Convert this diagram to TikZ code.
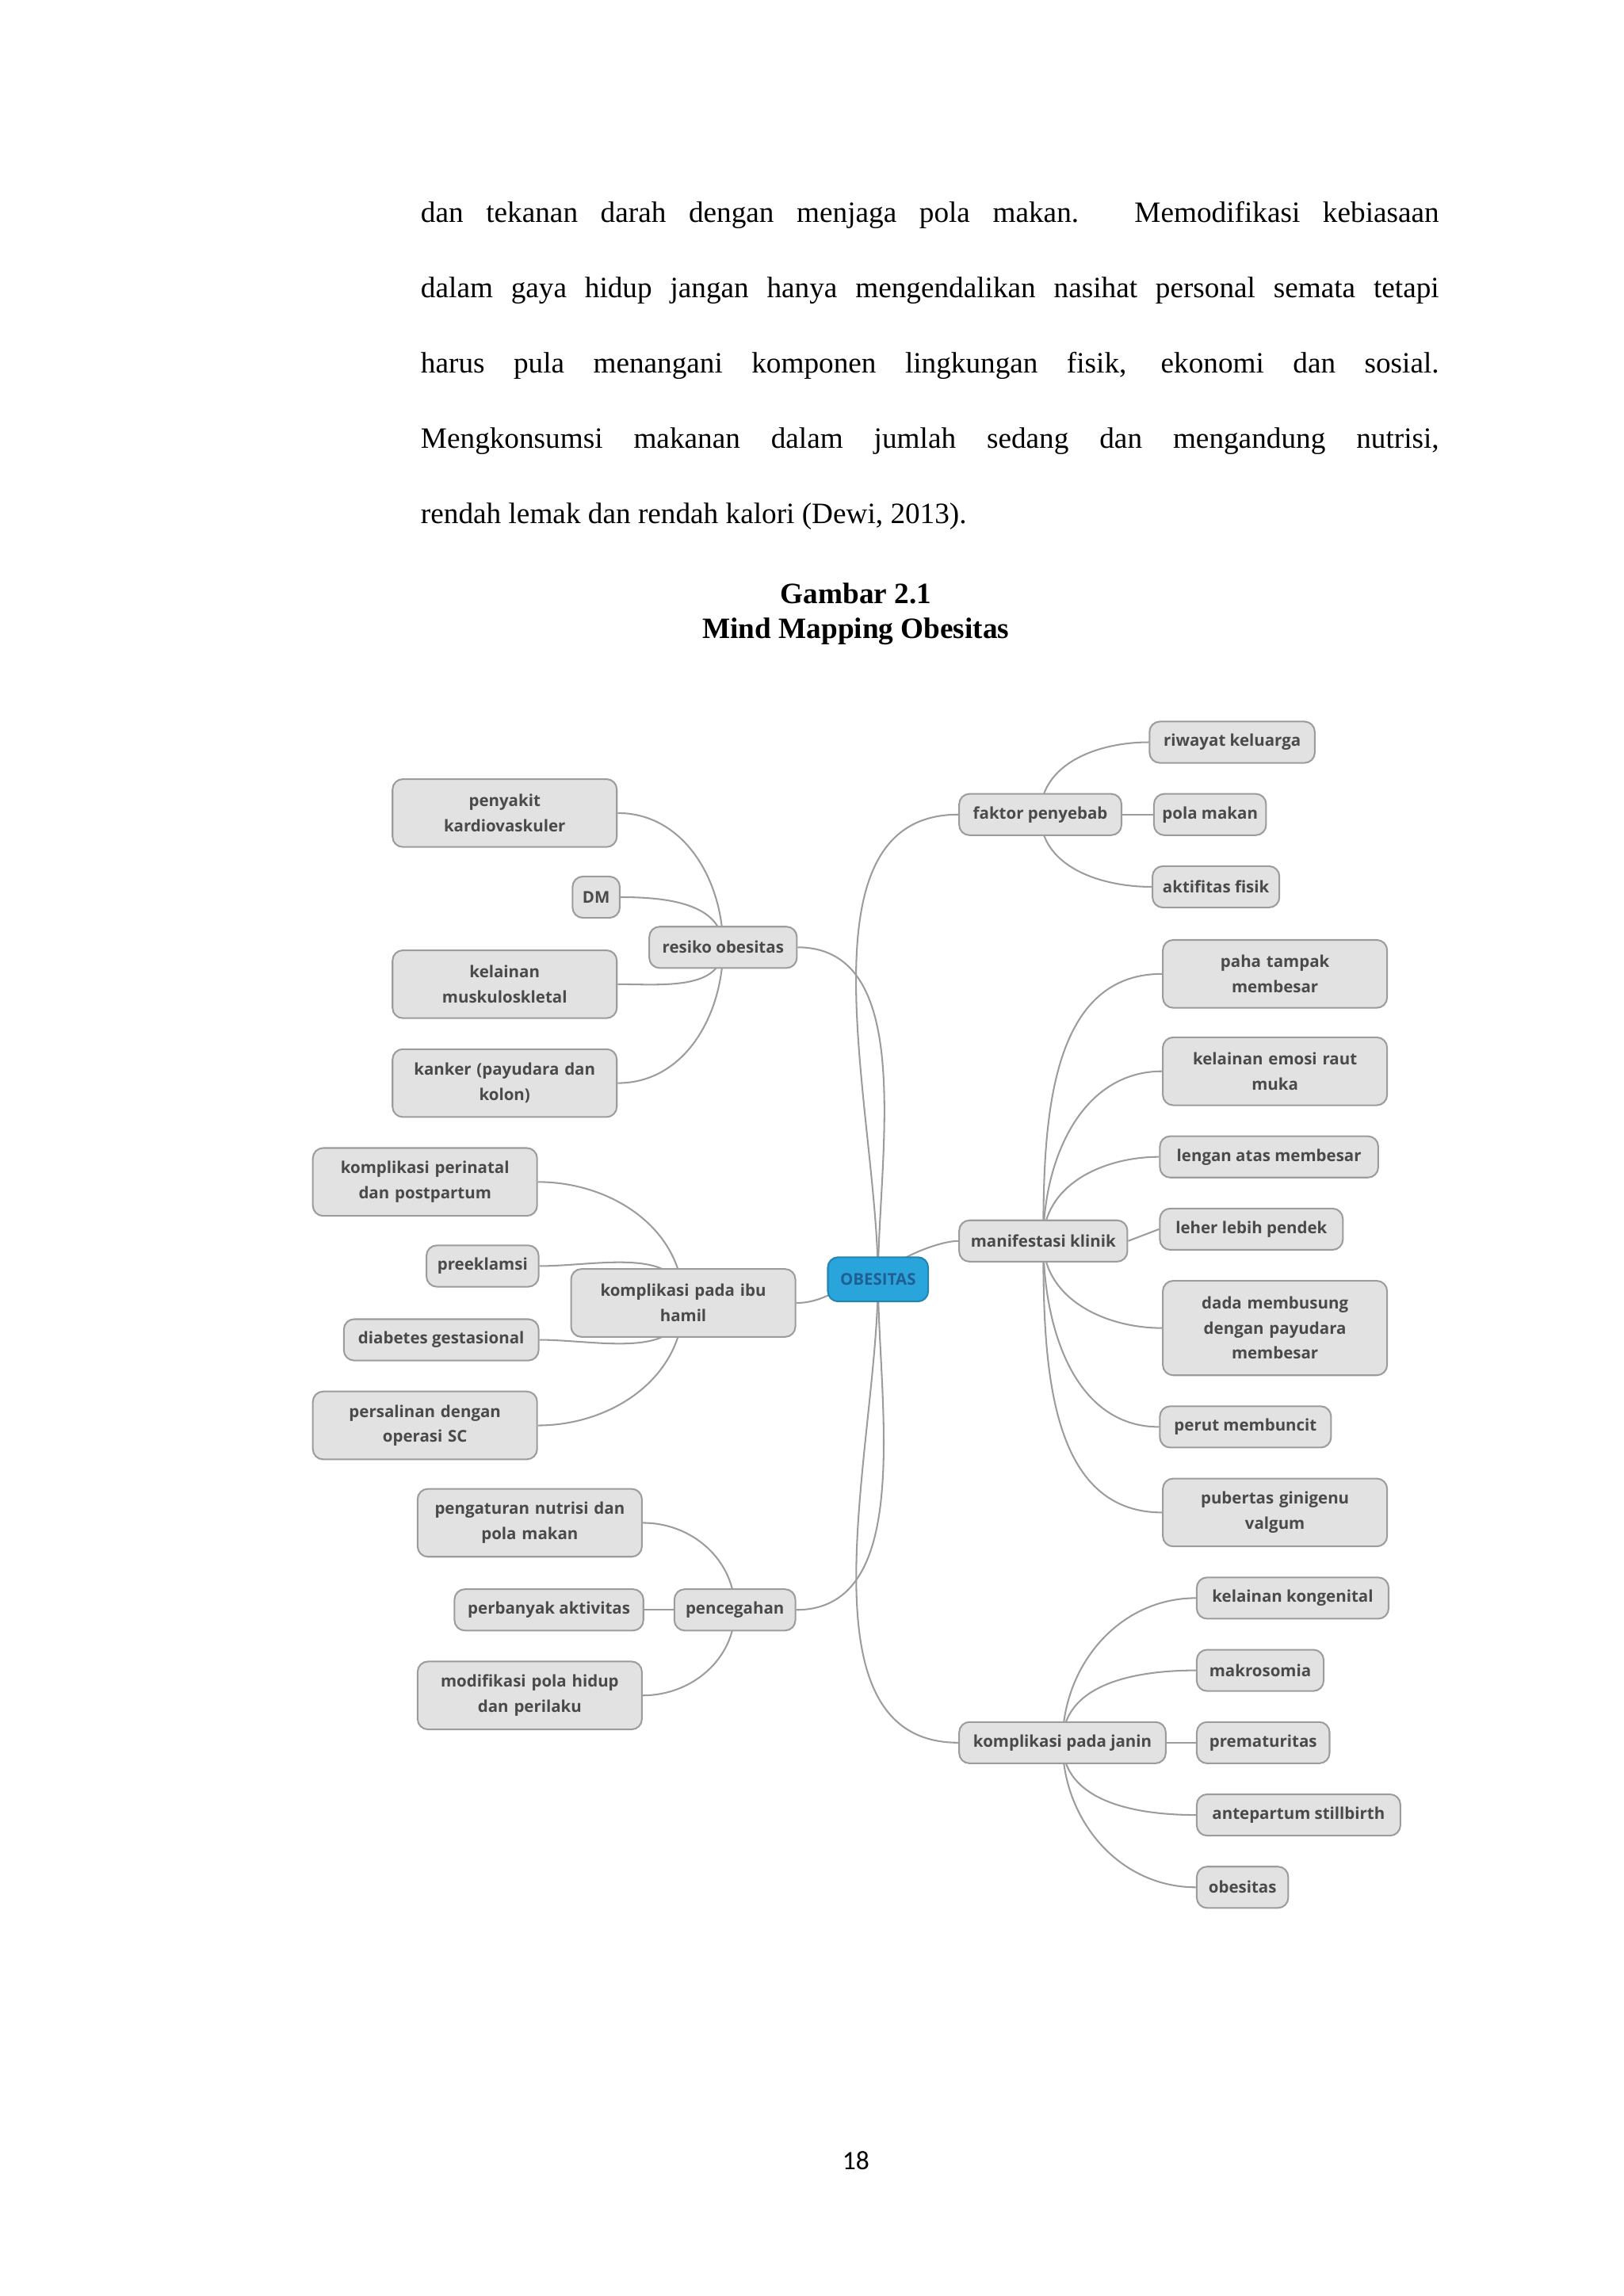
\documentclass[tikz,border=0pt]{standalone}
\usepackage{fontspec}
\setmainfont{Liberation Serif}
\newfontfamily\mapfont{Open Sans}
\newfontfamily\pgfont{Carlito}
\usetikzlibrary{backgrounds}
\definecolor{nfill}{HTML}{E2E2E2}
\definecolor{nline}{HTML}{9C9C9C}
\definecolor{ntext}{HTML}{4A4A4A}
\definecolor{cblue}{HTML}{2AA5DC}
\definecolor{ctext}{HTML}{1F5F93}
\tikzset{
  mn/.style={draw=nline, fill=nfill, line width=1.1pt, rounded corners=7pt, font=\mapfont\bfseries\fontsize{11}{17}\selectfont, text=ntext, minimum height=28pt, inner sep=3pt, align=center},
  w/.style={minimum width=#1pt},
  tw/.style={text width=#1pt, minimum height=46pt},
  conn/.style={draw=nline, line width=1.1pt},
  body/.style={font=\fontsize{20}{24}\selectfont, anchor=west, inner sep=0pt}
}
\begin{document}
\begin{tikzpicture}[x=1pt,y=-1pt]
\useasboundingbox (0,0) rectangle (1100,1556);
% body text
\node[body] at (285,146) {\makebox[690pt][s]{dan tekanan darah dengan menjaga pola makan. Memodifikasi kebiasaan}};
\node[body] at (285,197) {\makebox[690pt][s]{dalam gaya hidup jangan hanya mengendalikan nasihat personal semata tetapi}};
\node[body] at (285,248) {\makebox[690pt][s]{harus pula menangani komponen lingkungan fisik, ekonomi dan sosial.}};
\node[body] at (285,299) {\makebox[690pt][s]{Mengkonsumsi makanan dalam jumlah sedang dan mengandung nutrisi,}};
\node[body] at (285,350) {rendah lemak dan rendah kalori (Dewi, 2013).};
\node[font=\bfseries\fontsize{20}{24}\selectfont] (cap1) at (580,402) {Gambar 2.1};
\node[font=\bfseries\fontsize{20}{24}\selectfont] (cap2) at (580,428) {Mind Mapping Obesitas};
\node[font=\pgfont\fontsize{18}{20}\selectfont] (pg) at (580,1464) {18};

% center
\node[mn, fill=cblue, draw=cblue!80!black, text=ctext, minimum width=68pt, minimum height=30pt] (O) at (595,867) {OBESITAS};
% right side
\node[mn, w=110] (fp) at (705,552) {faktor penyebab};
\node[mn, w=112] (fp1) at (835,503) {riwayat keluarga};
\node[mn, w=76] (fp2) at (820,552) {pola makan};
\node[mn, w=86] (fp3) at (824,601) {aktifitas fisik};

\node[mn, w=114] (mk) at (707,841) {manifestasi klinik};
\node[mn, tw=146] (mk1) at (864,660) {paha tampak\\membesar};
\node[mn, tw=146] (mk2) at (864,726) {kelainan emosi raut\\muka};
\node[mn, w=148] (mk3) at (860,784) {lengan atas membesar};
\node[mn, w=124] (mk4) at (848,833) {leher lebih pendek};
\node[mn, tw=146, minimum height=64pt] (mk5) at (864,900) {dada membusung\\dengan payudara\\membesar};
\node[mn, w=116] (mk6) at (844,967) {perut membuncit};
\node[mn, tw=146] (mk7) at (864,1025) {pubertas ginigenu\\valgum};

\node[mn, w=140] (kj) at (720,1181) {komplikasi pada janin};
\node[mn, w=130] (kj1) at (876,1083) {kelainan kongenital};
\node[mn, w=86] (kj2) at (854,1132) {makrosomia};
\node[mn, w=90] (kj3) at (856,1181) {prematuritas};
\node[mn, w=138] (kj4) at (880,1230) {antepartum stillbirth};
\node[mn, w=62] (kj5) at (842,1279) {obesitas};
% left side
\node[mn, w=100] (ro) at (490,642) {resiko obesitas};
\node[mn, tw=146] (ro1) at (342,551) {penyakit\\kardiovaskuler};
\node[mn, w=32] (ro2) at (404,608) {DM};
\node[mn, tw=146] (ro3) at (342,667) {kelainan\\muskuloskletal};
\node[mn, tw=146] (ro4) at (342,734) {kanker (payudara dan\\kolon)};

\node[mn, tw=146] (ki) at (463,883) {komplikasi pada ibu\\hamil};
\node[mn, tw=146] (ki1) at (288,801) {komplikasi perinatal\\dan postpartum};
\node[mn, w=76] (ki2) at (327,858) {preeklamsi};
\node[mn, w=132] (ki3) at (299,908) {diabetes gestasional};
\node[mn, tw=146] (ki4) at (288,966) {persalinan dengan\\operasi SC};

\node[mn, w=82] (pc) at (498,1091) {pencegahan};
\node[mn, tw=146] (pc1) at (359,1032) {pengaturan nutrisi dan\\pola makan};
\node[mn, w=128] (pc2) at (372,1091) {perbanyak aktivitas};
\node[mn, tw=146] (pc3) at (359,1149) {modifikasi pola hidup\\dan perilaku};

\begin{scope}[on background layer]
% center to branches
\draw[conn] (O.center) to[out=90,in=180,looseness=0.9] (fp.west);
\draw[conn] (O.center) to[out=60,in=180,looseness=0.6] (mk.west);
\draw[conn] (O.center) to[out=-90,in=180,looseness=0.9] (kj.west);
\draw[conn] (O.center) to[out=90,in=0,looseness=0.9] (ro.east);
\draw[conn] (O.center) to[out=180,in=0] (ki.east);
\draw[conn] (O.center) to[out=-90,in=0,looseness=0.9] (pc.east);
% faktor penyebab
\draw[conn] (fp.center) to[out=90,in=180] (fp1.west);
\draw[conn] (fp.east) -- (fp2.west);
\draw[conn] (fp.center) to[out=-90,in=180] (fp3.west);
% manifestasi
\foreach \n in {mk1,mk2,mk3} \draw[conn] (mk.center) to[out=90,in=180] (\n.west);
\draw[conn] (mk.east) -- (mk4.west);
\foreach \n in {mk5,mk6,mk7} \draw[conn] (mk.center) to[out=-90,in=180] (\n.west);
% janin
\foreach \n in {kj1,kj2} \draw[conn] (kj.center) to[out=90,in=180] (\n.west);
\draw[conn] (kj.east) -- (kj3.west);
\foreach \n in {kj4,kj5} \draw[conn] (kj.center) to[out=-90,in=180] (\n.west);
% resiko
\foreach \n in {ro1,ro2} \draw[conn] (ro.center) to[out=90,in=0] (\n.east);
\foreach \n in {ro3,ro4} \draw[conn] (ro.center) to[out=-90,in=0] (\n.east);
% ibu hamil
\foreach \n in {ki1,ki2} \draw[conn] (ki.center) to[out=90,in=0] (\n.east);
\foreach \n in {ki3,ki4} \draw[conn] (ki.center) to[out=-90,in=0] (\n.east);
% pencegahan
\draw[conn] (pc.center) to[out=90,in=0] (pc1.east);
\draw[conn] (pc.west) -- (pc2.east);
\draw[conn] (pc.center) to[out=-90,in=0] (pc3.east);
\end{scope}
\end{tikzpicture}
\end{document}
